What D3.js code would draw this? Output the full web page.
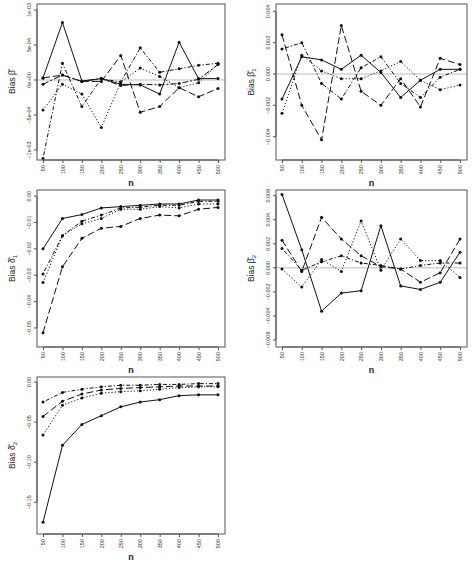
<!DOCTYPE html>
<html><head><meta charset="utf-8">
<script src="https://cdn.jsdelivr.net/npm/d3@7"></script>
<style>body{margin:0;background:#fff}svg{font-family:"Liberation Sans",Arial,sans-serif}</style>
</head><body>
<svg id="chart" width="474" height="562"></svg>
<script>
// ---------- Data ----------
const nValues = [50,100,150,200,250,300,350,400,450,500];

// panel 1: bias beta-hat (units 1e-4)
const beta0Solid   = [0.3,8.2,-0.15,0.2,-0.6,-0.7,-2.0,5.4,0.2,0.2];
const beta0Dash    = [0.3,0.7,-0.2,-0.2,3.5,-4.6,-3.8,-1.1,-2.4,-1.2];
const beta0DotDash = [-11.2,2.4,-3.8,0.2,-0.3,4.6,1.1,1.6,2.1,2.4];
const beta0Dot     = [-4.3,-0.6,-2.0,-6.8,-0.3,1.7,0.5,-1.1,-0.4,2.3];
const beta0TwoDash = [-0.6,0.7,-0.2,0.2,-0.8,-0.6,-0.7,-0.5,0.1,2.2];

// panel 2: bias beta1-hat (units 1e-3)
const beta1Solid   = [-1.6,1.1,0.9,0.3,1.2,0.1,-1.5,-0.4,0.3,0.3];
const beta1Dash    = [2.5,-2.0,-4.2,3.1,-1.1,-2.0,-0.3,-2.1,1.0,0.6];
const beta1DotDash = [1.6,2.0,-0.6,-1.6,0.4,1.1,-0.6,-1.5,-0.2,0.3];
const beta1Dot     = [-2.5,1.2,0.2,-0.3,-0.3,0.2,0.8,-0.4,-1.0,-0.7];

// panel 3: bias delta1-hat
const delta1Solid   = [-0.020,-0.0085,-0.007,-0.0045,-0.004,-0.0035,-0.003,-0.003,-0.0015,-0.0015];
const delta1Dash    = [-0.0518,-0.0268,-0.016,-0.0122,-0.0115,-0.0085,-0.0072,-0.0075,-0.005,-0.0043];
const delta1DotDash = [-0.0295,-0.015,-0.0095,-0.0072,-0.0045,-0.0042,-0.0035,-0.0035,-0.002,-0.002];
const delta1Dot     = [-0.0328,-0.015,-0.0105,-0.0085,-0.005,-0.005,-0.004,-0.0045,-0.003,-0.003];

// panel 4: bias beta2-hat (units 1e-3)
const beta2Solid   = [6.1,1.5,-3.6,-2.1,-1.9,3.5,-1.5,-1.8,-1.2,1.3];
const beta2Dash    = [2.3,-0.3,4.2,2.4,1.0,0.1,-0.1,-1.2,-0.4,2.4];
const beta2DotDash = [1.6,-0.2,0.5,1.0,0.4,0.2,-0.1,0.2,0.4,0.4];
const beta2Dot     = [-0.1,-1.6,0.7,-0.3,3.9,-0.2,2.4,0.6,0.6,-0.8];

// panel 5: bias delta2-hat
const delta2Solid   = [-0.175,-0.079,-0.053,-0.042,-0.031,-0.025,-0.022,-0.017,-0.016,-0.016];
const delta2Dash    = [-0.043,-0.024,-0.015,-0.010,-0.008,-0.007,-0.006,-0.005,-0.005,-0.005];
const delta2Dot     = [-0.066,-0.029,-0.020,-0.014,-0.012,-0.011,-0.009,-0.007,-0.006,-0.006];
const delta2DotDash = [-0.025,-0.013,-0.009,-0.006,-0.004,-0.004,-0.003,-0.003,-0.002,-0.002];

const dashes = {solid:null, dash:"7,3", dot:"1.2,2", dotdash:"1.2,2,4,2", twodash:"6,2,2,2"};
const e4 = a => a.map(v => v*1e-4), e3 = a => a.map(v => v*1e-3);

const panels = [
  { box:[37,4,225,160], dom:[-1.143e-3,1.086e-3], ticks:[-1e-3,-5e-4,0,5e-4,1e-3],
    fmt: v => v===0 ? "0e+00" : d3.format(".0e")(v).replace("e-","e-0"), label:"β̂", sub:"", zero:true,
    series:[[e4(beta0Solid),"solid"],[e4(beta0Dash),"dash"],[e4(beta0DotDash),"dotdash"],[e4(beta0Dot),"dot"],[e4(beta0TwoDash),"twodash"]] },
  { box:[276,4,467,160], dom:[-5.49e-3,4.47e-3], ticks:[-0.004,-0.002,0,0.002,0.004],
    fmt: d3.format(".3f"), label:"β̂", sub:"1", zero:true,
    series:[[e3(beta1Solid),"solid"],[e3(beta1Dash),"dash"],[e3(beta1DotDash),"dotdash"],[e3(beta1Dot),"dot"]] },
  { box:[37,190,225,347], dom:[-0.0572,0.0023], ticks:[-0.05,-0.04,-0.03,-0.02,-0.01,0],
    fmt: d3.format(".2f"), label:"δ̂", sub:"1", zero:false,
    series:[[delta1Solid,"solid"],[delta1Dash,"dash"],[delta1DotDash,"dotdash"],[delta1Dot,"dot"]] },
  { box:[276,190,467,347], dom:[-6.58e-3,6.47e-3], ticks:[-0.006,-0.004,-0.002,0,0.002,0.004,0.006],
    fmt: d3.format(".3f"), label:"β̂", sub:"2", zero:true,
    series:[[e3(beta2Solid),"solid"],[e3(beta2Dash),"dash"],[e3(beta2DotDash),"dotdash"],[e3(beta2Dot),"dot"]] },
  { box:[37,377,225,534], dom:[-0.1896,0.00625], ticks:[-0.15,-0.10,-0.05,0],
    fmt: d3.format(".2f"), label:"δ̂", sub:"2", zero:false,
    series:[[delta2Solid,"solid"],[delta2Dash,"dash"],[delta2Dot,"dot"],[delta2DotDash,"dotdash"]] }
];

const svg = d3.select("#chart");

panels.forEach(p => {
  const [x0,y0,x1,y1] = p.box;
  const x = d3.scalePoint().domain(nValues).range([x0+6, x1-7]);
  const y = d3.scaleLinear().domain(p.dom).range([y1, y0]);
  const g = svg.append("g");

  if (p.zero) g.append("line").attr("x1",x0).attr("x2",x1).attr("y1",y(0)).attr("y2",y(0))
    .attr("stroke","#bbb").attr("stroke-width",1);

  const line = d3.line().x((d,i) => x(nValues[i])).y(d => y(d));
  p.series.forEach(([vals, kind]) => {
    g.append("path").datum(vals).attr("fill","none").attr("stroke","#111").attr("stroke-width",1)
      .attr("stroke-dasharray", dashes[kind]).attr("d", line);
    g.selectAll(null).data(vals).enter().append("circle")
      .attr("cx",(d,i) => x(nValues[i])).attr("cy", d => y(d)).attr("r",1.5).attr("fill","#111");
  });

  g.append("rect").attr("x",x0).attr("y",y0).attr("width",x1-x0).attr("height",y1-y0)
    .attr("fill","none").attr("stroke","#555").attr("stroke-width",1);

  // x axis (vertical labels)
  const xa = g.append("g").attr("transform",`translate(0,${y1})`)
    .call(d3.axisBottom(x).tickSize(3).tickPadding(2));
  xa.select(".domain").attr("d",`M${x(50)},0H${x(500)}`).attr("stroke","#555");
  xa.selectAll(".tick line").attr("stroke","#555");
  xa.selectAll("text").attr("font-size",5.5).attr("fill","#333")
    .attr("transform","rotate(-90)").attr("text-anchor","end").attr("dy","0.32em").attr("x",-5).attr("y",0);

  // y axis (labels parallel)
  const ya = g.append("g").attr("transform",`translate(${x0},0)`)
    .call(d3.axisLeft(y).tickValues(p.ticks).tickFormat(p.fmt).tickSize(3).tickPadding(2));
  ya.select(".domain").attr("d",`M0,${y(p.ticks[0])}V${y(p.ticks[p.ticks.length-1])}`).attr("stroke","#555");
  ya.selectAll(".tick line").attr("stroke","#555");
  ya.selectAll("text").attr("font-size",5.5).attr("fill","#333")
    .attr("transform","rotate(-90)").attr("text-anchor","middle").attr("x",0).attr("dy",0)
    .attr("y",-6).attr("transform", d => `translate(0,${y(d)}) rotate(-90)`);
  ya.selectAll(".tick").attr("transform",null);
  ya.selectAll(".tick line").attr("transform", d => `translate(0,${y(d)})`);

  g.append("text").attr("x",(x0+x1)/2).attr("y",y1+26).attr("text-anchor","middle")
    .attr("font-size",9).attr("font-weight","bold").attr("fill","#222").text("n");

  const lab = g.append("text").attr("transform",`translate(${x0-22},${(y0+y1)/2}) rotate(-90)`)
    .attr("text-anchor","middle").attr("font-size",8.5).attr("fill","#222");
  lab.append("tspan").text("Bias " + p.label);
  if (p.sub) lab.append("tspan").attr("font-size",6).attr("dy",2).text(p.sub);
});
</script>
</body></html>
